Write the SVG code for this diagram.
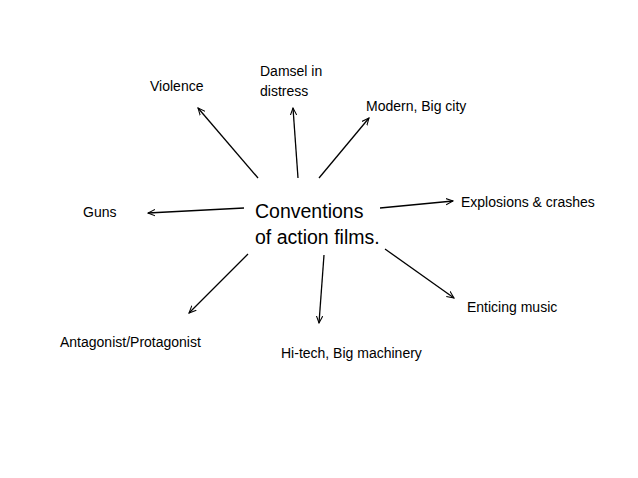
<svg xmlns="http://www.w3.org/2000/svg" width="638" height="478" viewBox="0 0 638 478">
<defs>
<marker id="ah" viewBox="0 0 10 10" refX="9" refY="5" markerWidth="8" markerHeight="8" orient="auto" markerUnits="userSpaceOnUse">
<path d="M0,1 L9,5 L0,9" fill="none" stroke="#000" stroke-width="1.3"/>
</marker>
<style>
.l{stroke:#000;stroke-width:1.3;fill:none;marker-end:url(#ah)}
.t{font-family:"Liberation Sans",Arial,sans-serif;font-size:14px;fill:#000}
.c{font-family:"Liberation Sans",Arial,sans-serif;font-size:19.5px;fill:#000}
</style>
</defs>
<rect width="638" height="478" fill="#fff"/>
<g id="connectors">
<line class="l" x1="258" y1="178" x2="198" y2="108"/>
<line class="l" x1="298" y1="178" x2="293" y2="108"/>
<line class="l" x1="319" y1="178" x2="369" y2="118"/>
<line class="l" x1="244" y1="208" x2="148" y2="213"/>
<line class="l" x1="380" y1="208" x2="453" y2="201"/>
<line class="l" x1="385" y1="249" x2="454" y2="298"/>
<line class="l" x1="324" y1="255" x2="319" y2="323"/>
<line class="l" x1="248" y1="254" x2="189" y2="313"/>
</g>
<g id="center"><text class="c" x="255" y="218">Conventions</text><text class="c" x="255" y="244">of action films.</text></g>
<g id="violence"><text class="t" x="150" y="91">Violence</text></g>
<g id="damsel"><text class="t" x="260" y="76">Damsel in</text><text class="t" x="260" y="96">distress</text></g>
<g id="modern"><text class="t" x="366" y="111">Modern, Big city</text></g>
<g id="guns"><text class="t" x="83" y="217">Guns</text></g>
<g id="explosions"><text class="t" x="461" y="207">Explosions &amp; crashes</text></g>
<g id="music"><text class="t" x="467" y="312">Enticing music</text></g>
<g id="hitech"><text class="t" x="281" y="358">Hi-tech, Big machinery</text></g>
<g id="antagonist"><text class="t" x="60" y="347">Antagonist/Protagonist</text></g>
</svg>
